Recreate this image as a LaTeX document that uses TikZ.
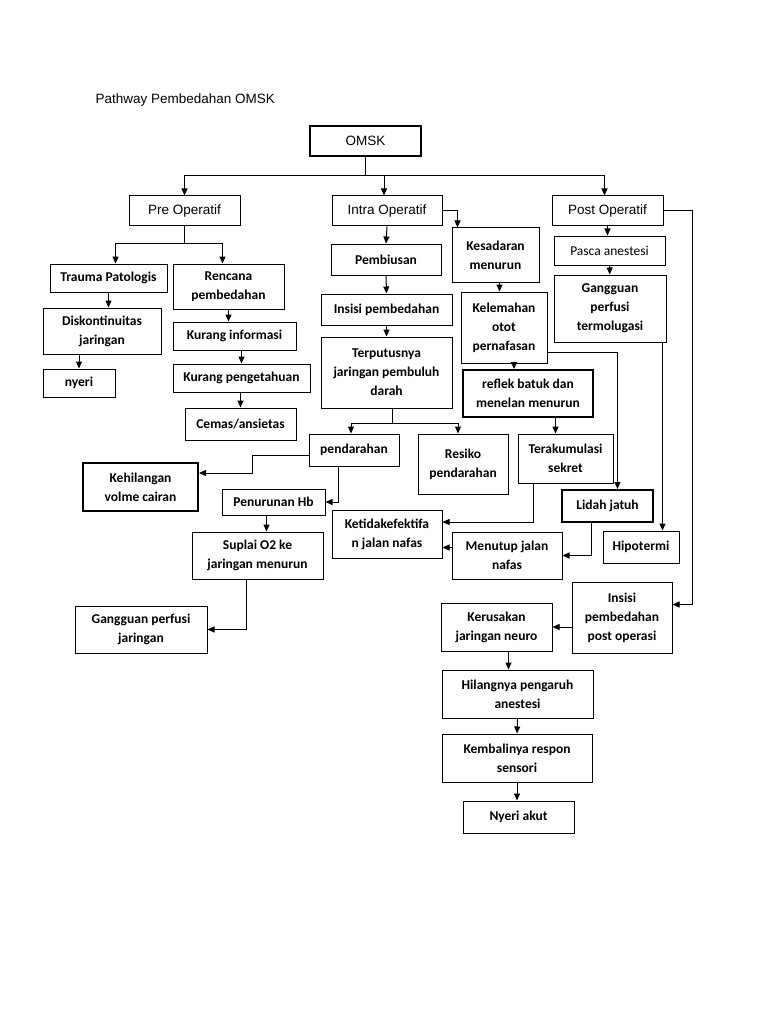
\documentclass[tikz,border=0pt]{standalone}
\usepackage{fontspec}
\setmainfont{Carlito}
\newfontfamily\arial{Liberation Sans}
\usepackage{tikz}
\usetikzlibrary{arrows.meta}
\usetikzlibrary{calc}

\tikzset{
  kotak/.style={draw, line width=1pt, inner sep=0pt, align=center,
     font=\bfseries\fontsize{13.5}{19}\selectfont},
  utama/.style={draw, line width=1pt, inner sep=0pt, align=center,
     font=\arial\fontsize{13.5}{16}\selectfont},
  tebal/.style={line width=2pt},
  ukuran/.style 2 args={minimum width=#1pt, minimum height=#2pt},
  garis/.style={line width=1pt},
  panah/.style={-{Triangle[length=7pt,width=6pt]}, line width=1pt}
}

\begin{document}
\begin{tikzpicture}[x=1pt,y=-1pt]
   \useasboundingbox (0,0) rectangle (768,1024);

   \node (judul) at (92,100) [anchor=west,
      font=\arial\fontsize{13.5}{16}\selectfont] {Pathway Pembedahan OMSK};

   \node (omsk) at (365.5,141) [utama, tebal, ukuran={111}{30}] {OMSK};
   \node (pre) at (184.5,211) [utama, ukuran={111}{30}] {Pre Operatif};
   \node (intra) at (387,211) [utama, ukuran={110}{30}] {Intra Operatif};
   \node (post) at (607.5,211) [utama, ukuran={111}{30}] {Post Operatif};

   \node (trauma) at (108.5,278) [kotak, ukuran={117}{28}] {Trauma Patologis};
   \node (rencana) at (228.5,286.5) [kotak, ukuran={111}{45}] {Rencana\\pembedahan};
   \node (diskon) at (102,331) [kotak, ukuran={118}{46}] {Diskontinuitas\\jaringan};
   \node (nyeri) at (79,383) [kotak, ukuran={72}{28}] {nyeri};
   \node (kurinfo) at (234.5,336) [kotak, ukuran={123}{28}] {Kurang informasi};
   \node (kurpeng) at (241.5,378) [kotak, ukuran={137}{28}] {Kurang pengetahuan};
   \node (cemas) at (240.5,424) [kotak, ukuran={111}{32}] {Cemas/ansietas};

   \node (bius) at (386,259.5) [kotak, ukuran={110}{31}] {Pembiusan};
   \node (insisi) at (386.5,309.5) [kotak, ukuran={131}{31}] {Insisi pembedahan};
   \node (putus) at (386.5,372.5) [kotak, ukuran={131}{71}]
      {Terputusnya\\jaringan pembuluh\\darah};
   \node (sadar) at (495.5,255) [kotak, ukuran={87}{54}] {Kesadaran\\menurun};
   \node (lemah) at (504,327.5) [kotak, ukuran={86}{71}] {Kelemahan\\otot\\pernafasan};
   \node (reflek) at (528,393.5) [kotak, tebal, ukuran={130}{47}]
      {reflek batuk dan\\menelan menurun};
   \node (pasca) at (609.5,250.5) [kotak, font=\fontsize{13.5}{19}\selectfont,
      ukuran={111}{29}] {Pasca anestesi};
   \node (termo) at (610,308.5) [kotak, ukuran={112}{67}] {Gangguan\\perfusi\\termolugasi};

   \node (darah) at (354,450) [kotak, ukuran={90}{32}] {pendarahan};
   \node (resiko) at (463,464) [kotak, ukuran={90}{60}] {Resiko\\pendarahan};
   \node (sekret) at (565.5,458.5) [kotak, ukuran={95}{49}] {Terakumulasi\\sekret};
   \node (lidah) at (607.5,506) [kotak, tebal, ukuran={91}{32}] {Lidah jatuh};
   \node (hipo) at (641,547) [kotak, ukuran={76}{32}] {Hipotermi};
   \node (efektif) at (387,534) [kotak, ukuran={110}{48}] {Ketidakefektifa\\n jalan nafas};
   \node (tutup) at (507,555.5) [kotak, ukuran={110}{47}] {Menutup jalan\\nafas};
   \node (insisipost) at (622,617.5) [kotak, ukuran={100}{71}]
      {Insisi\\pembedahan\\post operasi};
   \node (rusak) at (496.5,627) [kotak, ukuran={111}{48}] {Kerusakan\\jaringan neuro};
   \node (hilang) at (517.5,694) [kotak, ukuran={151}{48}] {Hilangnya pengaruh\\anestesi};
   \node (respon) at (517,758) [kotak, ukuran={150}{48}] {Kembalinya respon\\sensori};
   \node (akut) at (518.5,817) [kotak, ukuran={111}{32}] {Nyeri akut};

   \node (cairan) at (140.5,487) [kotak, tebal, ukuran={115}{48}] {Kehilangan\\volme cairan};
   \node (hb) at (273.5,502) [kotak, ukuran={103}{26}] {Penurunan Hb};
   \node (suplai) at (257.5,555.5) [kotak, ukuran={131}{47}] {Suplai O2 ke\\jaringan menurun};
   \node (perfusi) at (141,629.5) [kotak, ukuran={132}{47}] {Gangguan perfusi\\jaringan};

   % OMSK ke tiga tahap
   \draw [garis] (omsk.south) -- ++(0,19) coordinate (cabomsk);
   \draw [panah] (cabomsk) -| (pre.north);
   \draw [panah] (cabomsk) -| ($(intra.north)+(-3,0)$);
   \draw [panah] (cabomsk) -| ($(post.north)+(-3,0)$);

   % pre operatif
   \draw [garis] (pre.south) -- ++(0,17) coordinate (cabpre);
   \draw [panah] (cabpre) -| ($(trauma.north)+(7,0)$);
   \draw [panah] (cabpre) -| ($(rencana.north)+(-6,0)$);
   \draw [panah] (trauma.south) -- (trauma.south |- diskon.north);
   \draw [panah] (nyeri.north |- diskon.south) -- (nyeri.north);
   \draw [panah] (rencana.south) -- (rencana.south |- kurinfo.north);
   \draw [panah] (kurpeng.north |- kurinfo.south) -- (kurpeng.north);
   \draw [panah] (cemas.north |- kurpeng.south) -- (cemas.north);

   % intra operatif
   \draw [panah] (intra.east) -| ($(sadar.north west)+(6,0)$);
   \draw [panah] (intra.south) -- (bius.north);
   \draw [panah] (bius) -- (insisi);
   \draw [panah] (insisi) -- (putus);
   \draw [garis] ($(putus.south)+(6,0)$) -- ++(0,15) coordinate (cabputus);
   \draw [panah] (cabputus) -| ($(darah.north)+(-3,0)$);
   \draw [panah] (cabputus) -| ($(resiko.north)+(-5,0)$);
   \draw [panah] ($(sadar.south)+(4,0)$) coordinate (s1) -- (s1 |- lemah.north);
   \coordinate (l1) at ($(lemah.south)+(10,0)$);
   \draw [panah] (l1) -- (l1 |- reflek.north);
   \draw [panah] ($(lemah.east)+(0,25)$) -| ($(lidah.north)+(10,0)$);
   \coordinate (r1) at ($(sekret.north)+(-10,0)$);
   \draw [panah] (r1 |- reflek.south) -- (r1);
   \draw [panah] ($(sekret.south)+(-32,0)$) |- ($(efektif.east)+(0,-12)$);
   \draw [panah] ($(lidah.south)+(-16,0)$) |- (tutup.east);
   \coordinate (t1) at ($(tutup.west)+(0,-8)$);
   \draw [panah] (t1) -- (t1 -| efektif.east);

   % pendarahan
   \draw [panah] ($(darah.west)+(0,5)$) -- ++(-56,0) |- ($(cairan.east)+(0,-14)$);
   \draw [panah] ($(darah.south)+(-16,0)$) |- (hb.east);
   \coordinate (h1) at ($(hb.south)+(-7,0)$);
   \draw [panah] (h1) -- (h1 |- suplai.north);
   \draw [panah] ($(suplai.south)+(-11,0)$) |- (perfusi.east);

   % post operatif
   \draw [panah] (post.south) -- (post.south |- pasca.north);
   \draw [panah] (pasca) -- (termo);
   \coordinate (g1) at ($(termo.south east)+(-4,0)$);
   \draw [panah] (g1) -- (g1 |- hipo.north);
   \draw [panah] (post.east) -- ++(29,0) |- ($(insisipost.east)+(0,-13)$);
   \draw [panah] (rusak.east -| insisipost.west) -- (rusak.east);
   \coordinate (k1) at ($(rusak.south)+(12,0)$);
   \draw [panah] (k1) -- (k1 |- hilang.north);
   \draw [panah] (hilang.south) -- (respon.north);
   \draw [panah] (respon.south) -- (respon.south |- akut.north);
\end{tikzpicture}
\end{document}
